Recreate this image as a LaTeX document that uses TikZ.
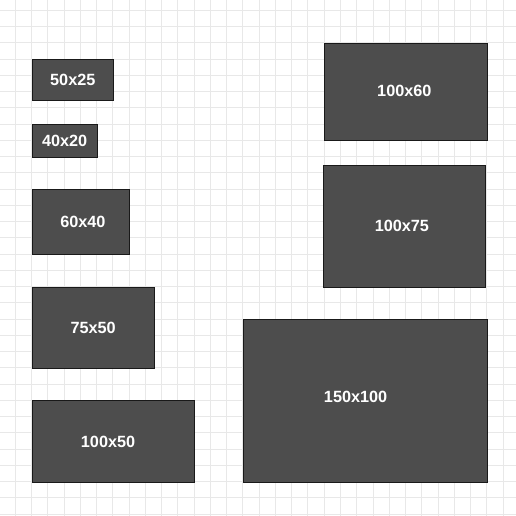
\documentclass[tikz,border=0pt]{standalone}
\usepackage{fontspec}
\setmainfont{Liberation Sans}
\usepackage{tikz}
\definecolor{boxfill}{HTML}{4D4D4D}
\definecolor{gridgray}{HTML}{E8E8E8}
\tikzset{
    sizebox/.style={draw=black!90, fill=boxfill, line width=0.6pt,
        anchor=north west, inner sep=0pt},
    boxtext/.style={text=white, font=\bfseries\fontsize{10}{12}\selectfont,
        inner sep=0pt},
    gridline/.style={draw=gridgray, line width=0.6pt},
}

\begin{document}
\begin{tikzpicture}[x=1pt, y=-1pt]
        \useasboundingbox[fill=white] (0.5, -6.3) rectangle (318, 311.2);
        %background grid
        \foreach \i in {10,20,...,310} \draw[gridline] (\i, -10) -- (\i, 320);
        \foreach \j in {0,10,...,310} \draw[gridline] (-10, \j) -- (330, \j);
        %left column
        \node[sizebox, minimum width=50pt, minimum height=25pt,
            label={[boxtext]center:50x25}] (b50x25) at (20, 30) {};
        \node[sizebox, minimum width=40pt, minimum height=20pt,
            label={[boxtext]center:40x20}] (b40x20) at (20, 70) {};
        \node[sizebox, minimum width=60pt, minimum height=40pt,
            label={[boxtext, xshift=1.2pt]center:60x40}] (b60x40) at (20, 110) {};
        \node[sizebox, minimum width=75pt, minimum height=50pt,
            label={[boxtext]center:75x50}] (b75x50) at (20, 170) {};
        \node[sizebox, minimum width=100pt, minimum height=50pt,
            label={[boxtext, xshift=-3.3pt]center:100x50}] (b100x50) at (20, 240) {};
        %right column
        \node[sizebox, minimum width=100pt, minimum height=60pt,
            label={[boxtext, xshift=-1pt, yshift=0.5pt]center:100x60}] (b100x60) at (200, 20) {};
        \node[sizebox, minimum width=100pt, minimum height=75pt,
            label={[boxtext, xshift=-1.5pt]center:100x75}] (b100x75) at (199, 95) {};
        \node[sizebox, minimum width=150pt, minimum height=100pt,
            label={[boxtext, xshift=-6pt, yshift=2.5pt]center:150x100}] (b150x100) at (150, 190) {};
    \end{tikzpicture}
\end{document}
